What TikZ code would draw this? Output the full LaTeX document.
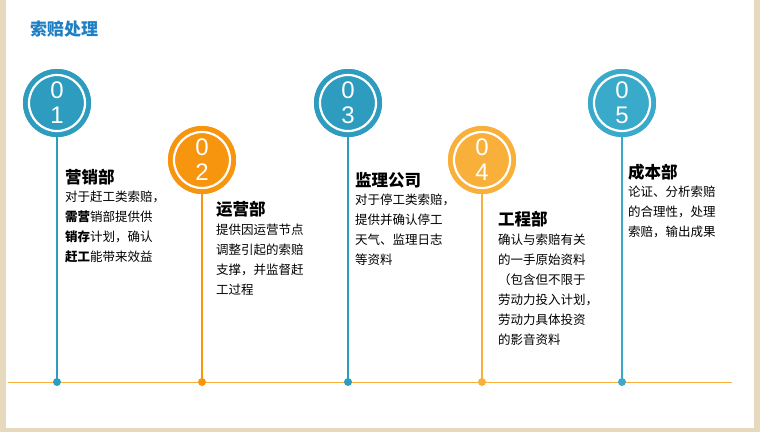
\documentclass[tikz,border=0pt]{standalone}
\usepackage{fontspec}
\setmainfont{Noto Sans CJK SC}
\newfontfamily\digfont{Liberation Sans}
\begin{document}
\begin{tikzpicture}[x=1pt,y=-1pt,
  ttl/.style={anchor=north west,inner sep=0pt,font=\fontsize{16.5}{18}\selectfont\bfseries},
  body/.style={anchor=north west,inner sep=0pt,align=left,font=\fontsize{12.5}{20}\selectfont},
  circ/.style={circle,minimum size=68pt,inner sep=0pt,fill=#1},
  ring/.style={circle,minimum size=56pt,inner sep=0pt,draw=white,line width=2.2pt,align=center,text=white,font=\digfont\fontsize{24}{25}\selectfont},
  vline/.style={line width=2.6pt,draw=#1},
  dot/.style={circle,minimum size=8pt,inner sep=0pt,fill=#1}]
\definecolor{bl}{HTML}{2E9CBE}
\definecolor{bll}{HTML}{3AAACB}
\definecolor{or}{HTML}{F7950F}
\definecolor{orl}{HTML}{F9B03A}
\definecolor{tb}{HTML}{1F7FC4}
\definecolor{bg}{HTML}{E6D9BD}
\fill[bg] (0,0) rectangle (760,432);
\fill[white] (6,0) rectangle (754,428);
\useasboundingbox (0,0) rectangle (760,432);
\node[anchor=west,inner sep=0pt,text=tb,font=\fontsize{17}{20}\selectfont\bfseries] (title) at (30,29) {索赔处理};
\coordinate (L) at (8,382); \coordinate (R) at (732,382);
\draw[orl,line width=1pt] (L) -- (R);
\foreach \n/\x/\y/\c/\t in {1/57/103/bl/0\\1,2/202/160/or/0\\2,3/348/103/bl/0\\3,4/482/160/orl/0\\4,5/622/103/bll/0\\5}{
  \node[dot=\c] (d\n) at (\x,382) {};
  \node[circ=\c] (c\n) at (\x,\y) {};
  \draw[vline=\c] (c\n.south) -- (d\n.center);
  \node[circ=\c] at (\x,\y) {};
  \node[ring] (r\n) at (\x,\y) {\t};
}
\node[ttl] (t1) at (65,169) {营销部};
\node[body] (b1) at (65,191) {对于赶工类索赔，\\\textbf{需营}销部提供供\\\textbf{销存}计划，确认\\\textbf{赶工}能带来效益};
\node[ttl] (t2) at (216,201) {运营部};
\node[body] (b2) at (216,224) {提供因运营节点\\调整引起的索赔\\支撑，并监督赶\\工过程};
\node[ttl] (t3) at (355,172) {监理公司};
\node[body] (b3) at (355,194) {对于停工类索赔，\\提供并确认停工\\天气、监理日志\\等资料};
\node[ttl] (t4) at (498,211) {工程部};
\node[body] (b4) at (498,234) {确认与索赔有关\\的一手原始资料\\（包含但不限于\\劳动力投入计划，\\劳动力具体投资\\的影音资料};
\node[ttl] (t5) at (628,164) {成本部};
\node[body] (b5) at (628,186) {论证、分析索赔\\的合理性，处理\\索赔，输出成果};
\end{tikzpicture}
\end{document}
